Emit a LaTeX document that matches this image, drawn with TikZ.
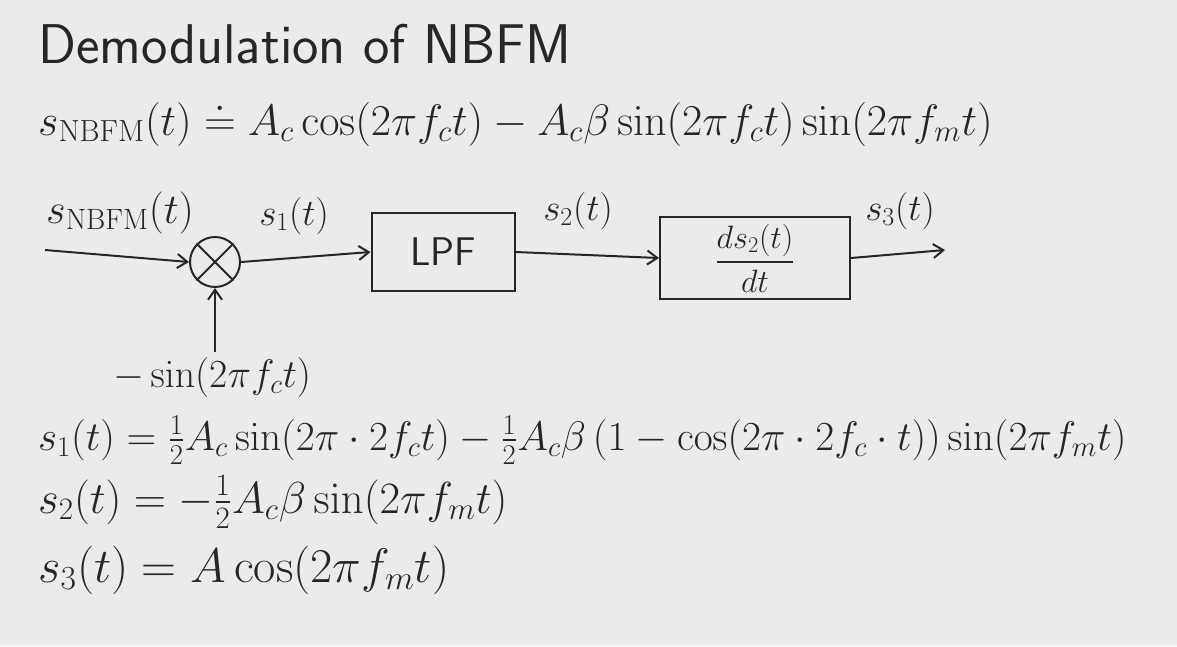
\documentclass[tikz,border=0pt]{standalone}
\usepackage{amsmath}
\usepackage{graphicx}
\usetikzlibrary{arrows.meta}
\begin{document}
\begin{tikzpicture}[x=1pt,y=-1pt,
  ink/.style={draw=black!85,line width=2pt},
  arr/.style={ink,-{Straight Barb[length=10pt,width=14pt]}},
  big/.style={font=\fontsize{56}{62}\selectfont,text=black!85,inner sep=0pt},
  mid/.style={font=\fontsize{24}{28}\selectfont,text=black!85,inner sep=0pt},
  lab/.style={font=\fontsize{24}{28}\selectfont,text=black!85,inner sep=0pt}]
\fill[black!8] (0,0) rectangle (1177,646);
\useasboundingbox (0,0) rectangle (1177,646);
\node[big,anchor=west] (title) at (38,44) {\sffamily Demodulation of NBFM};
\node[mid,anchor=west] (eq0) at (38,124) {\scalebox{1.77}{$s_{\mathrm{NBFM}}(t)\doteq A_c\cos(2\pi f_c t)-A_c\beta\sin(2\pi f_c t)\sin(2\pi f_m t)$}};
\coordinate (in) at (45,250);
\node[ink,circle,minimum size=50pt,inner sep=0pt] (mix) at (215,262) {};
\draw[ink] (mix.north west) -- (mix.south east) (mix.north east) -- (mix.south west);
\node[ink,rectangle,minimum width=143pt,minimum height=78pt] (lpf) at (443,252) {};
\node[font=\fontsize{40}{44}\selectfont,text=black!85] at (lpf) {\sffamily LPF};
\node[ink,rectangle,minimum width=190pt,minimum height=82pt] (diff) at (755,258) {};
\node[lab] at (diff) {\scalebox{1.3}{$\dfrac{ds_2(t)}{dt}$}};
\coordinate (out) at (945,250);
\coordinate (sinin) at (215,352);
\draw[arr] (in) -- (mix.west);
\draw[arr] (mix.east) -- (lpf.west);
\draw[arr] (lpf.east) -- (diff.west);
\draw[arr] (diff.east) -- (out);
\draw[arr] (sinin) -- (mix.south);
\node[lab] (l0) at (120,213) {\scalebox{1.7}{$s_{\mathrm{NBFM}}(t)$}};
\node[lab] (l1) at (294,216) {\scalebox{1.5}{$s_1(t)$}};
\node[lab] (l2) at (578,211) {\scalebox{1.5}{$s_2(t)$}};
\node[lab] (l3) at (900,211) {\scalebox{1.5}{$s_3(t)$}};
\node[lab] (l4) at (212,378) {\scalebox{1.6}{$-\sin(2\pi f_c t)$}};
\node[mid,anchor=west] (e1) at (38,440) {\scalebox{1.66}{$s_1(t)=\tfrac12A_c\sin(2\pi\cdot 2f_c t)-\tfrac12A_c\beta\,(1-\cos(2\pi\cdot 2f_c\cdot t))\sin(2\pi f_m t)$}};
\node[mid,anchor=west] (e2) at (38,502) {\scalebox{1.8}{$s_2(t)=-\tfrac12A_c\beta\sin(2\pi f_m t)$}};
\node[mid,anchor=west] (e3) at (38,570) {\scalebox{1.95}{$s_3(t)=A\cos(2\pi f_m t)$}};
\end{tikzpicture}
\end{document}
